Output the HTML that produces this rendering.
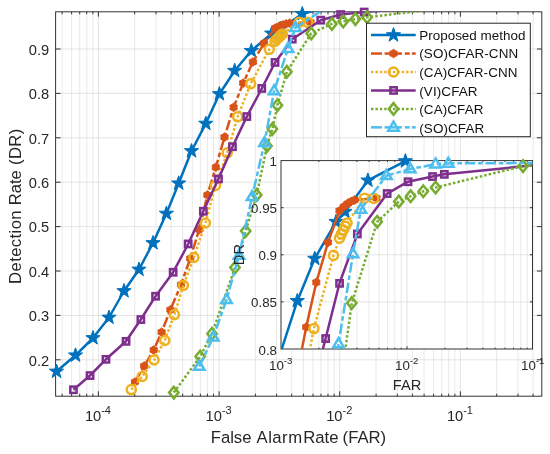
<!DOCTYPE html>
<html><head><meta charset="utf-8"><title>ROC curves</title>
<style>html,body{margin:0;padding:0;background:#fff}svg{display:block}</style></head>
<body>
<svg width="550" height="454" viewBox="0 0 550 454" font-family="'Liberation Sans', sans-serif" fill="#262626">
<rect width="550" height="454" fill="#fff"/>
<defs><clipPath id="cm"><rect x="55.6" y="11.8" width="486.2" height="384.4"/></clipPath><clipPath id="ci"><rect x="281.0" y="160.6" width="251.5" height="188.4"/></clipPath></defs>
<g><line x1="62.1" y1="11.8" x2="62.1" y2="396.2" stroke="#dadada" stroke-width="0.6"/><line x1="71.6" y1="11.8" x2="71.6" y2="396.2" stroke="#dadada" stroke-width="0.6"/><line x1="79.7" y1="11.8" x2="79.7" y2="396.2" stroke="#dadada" stroke-width="0.6"/><line x1="86.7" y1="11.8" x2="86.7" y2="396.2" stroke="#dadada" stroke-width="0.6"/><line x1="92.9" y1="11.8" x2="92.9" y2="396.2" stroke="#dadada" stroke-width="0.6"/><line x1="98.4" y1="11.8" x2="98.4" y2="396.2" stroke="#d2d2d2" stroke-width="0.6"/><line x1="134.7" y1="11.8" x2="134.7" y2="396.2" stroke="#dadada" stroke-width="0.6"/><line x1="156.0" y1="11.8" x2="156.0" y2="396.2" stroke="#dadada" stroke-width="0.6"/><line x1="171.1" y1="11.8" x2="171.1" y2="396.2" stroke="#dadada" stroke-width="0.6"/><line x1="182.7" y1="11.8" x2="182.7" y2="396.2" stroke="#dadada" stroke-width="0.6"/><line x1="192.3" y1="11.8" x2="192.3" y2="396.2" stroke="#dadada" stroke-width="0.6"/><line x1="200.4" y1="11.8" x2="200.4" y2="396.2" stroke="#dadada" stroke-width="0.6"/><line x1="207.4" y1="11.8" x2="207.4" y2="396.2" stroke="#dadada" stroke-width="0.6"/><line x1="213.5" y1="11.8" x2="213.5" y2="396.2" stroke="#dadada" stroke-width="0.6"/><line x1="219.1" y1="11.8" x2="219.1" y2="396.2" stroke="#d2d2d2" stroke-width="0.6"/><line x1="255.4" y1="11.8" x2="255.4" y2="396.2" stroke="#dadada" stroke-width="0.6"/><line x1="276.6" y1="11.8" x2="276.6" y2="396.2" stroke="#dadada" stroke-width="0.6"/><line x1="291.7" y1="11.8" x2="291.7" y2="396.2" stroke="#dadada" stroke-width="0.6"/><line x1="303.4" y1="11.8" x2="303.4" y2="396.2" stroke="#dadada" stroke-width="0.6"/><line x1="313.0" y1="11.8" x2="313.0" y2="396.2" stroke="#dadada" stroke-width="0.6"/><line x1="321.0" y1="11.8" x2="321.0" y2="396.2" stroke="#dadada" stroke-width="0.6"/><line x1="328.0" y1="11.8" x2="328.0" y2="396.2" stroke="#dadada" stroke-width="0.6"/><line x1="334.2" y1="11.8" x2="334.2" y2="396.2" stroke="#dadada" stroke-width="0.6"/><line x1="339.7" y1="11.8" x2="339.7" y2="396.2" stroke="#d2d2d2" stroke-width="0.6"/><line x1="376.1" y1="11.8" x2="376.1" y2="396.2" stroke="#dadada" stroke-width="0.6"/><line x1="397.3" y1="11.8" x2="397.3" y2="396.2" stroke="#dadada" stroke-width="0.6"/><line x1="412.4" y1="11.8" x2="412.4" y2="396.2" stroke="#dadada" stroke-width="0.6"/><line x1="424.1" y1="11.8" x2="424.1" y2="396.2" stroke="#dadada" stroke-width="0.6"/><line x1="433.6" y1="11.8" x2="433.6" y2="396.2" stroke="#dadada" stroke-width="0.6"/><line x1="441.7" y1="11.8" x2="441.7" y2="396.2" stroke="#dadada" stroke-width="0.6"/><line x1="448.7" y1="11.8" x2="448.7" y2="396.2" stroke="#dadada" stroke-width="0.6"/><line x1="454.9" y1="11.8" x2="454.9" y2="396.2" stroke="#dadada" stroke-width="0.6"/><line x1="460.4" y1="11.8" x2="460.4" y2="396.2" stroke="#d2d2d2" stroke-width="0.6"/><line x1="496.7" y1="11.8" x2="496.7" y2="396.2" stroke="#dadada" stroke-width="0.6"/><line x1="518.0" y1="11.8" x2="518.0" y2="396.2" stroke="#dadada" stroke-width="0.6"/><line x1="533.1" y1="11.8" x2="533.1" y2="396.2" stroke="#dadada" stroke-width="0.6"/><line x1="55.6" y1="359.8" x2="541.8" y2="359.8" stroke="#d2d2d2" stroke-width="0.6"/><line x1="55.6" y1="315.4" x2="541.8" y2="315.4" stroke="#d2d2d2" stroke-width="0.6"/><line x1="55.6" y1="271.0" x2="541.8" y2="271.0" stroke="#d2d2d2" stroke-width="0.6"/><line x1="55.6" y1="226.6" x2="541.8" y2="226.6" stroke="#d2d2d2" stroke-width="0.6"/><line x1="55.6" y1="182.2" x2="541.8" y2="182.2" stroke="#d2d2d2" stroke-width="0.6"/><line x1="55.6" y1="137.8" x2="541.8" y2="137.8" stroke="#d2d2d2" stroke-width="0.6"/><line x1="55.6" y1="93.4" x2="541.8" y2="93.4" stroke="#d2d2d2" stroke-width="0.6"/><line x1="55.6" y1="49.0" x2="541.8" y2="49.0" stroke="#d2d2d2" stroke-width="0.6"/></g>
<g><rect x="55.6" y="11.8" width="486.2" height="384.4" fill="none" stroke="#333" stroke-width="1"/><path d="M62.1 396.2v-2.5M62.1 11.8v2.5" stroke="#333" stroke-width="1"/><path d="M71.6 396.2v-2.5M71.6 11.8v2.5" stroke="#333" stroke-width="1"/><path d="M79.7 396.2v-2.5M79.7 11.8v2.5" stroke="#333" stroke-width="1"/><path d="M86.7 396.2v-2.5M86.7 11.8v2.5" stroke="#333" stroke-width="1"/><path d="M92.9 396.2v-2.5M92.9 11.8v2.5" stroke="#333" stroke-width="1"/><path d="M98.4 396.2v-4.9M98.4 11.8v4.9" stroke="#333" stroke-width="1"/><path d="M134.7 396.2v-2.5M134.7 11.8v2.5" stroke="#333" stroke-width="1"/><path d="M156.0 396.2v-2.5M156.0 11.8v2.5" stroke="#333" stroke-width="1"/><path d="M171.1 396.2v-2.5M171.1 11.8v2.5" stroke="#333" stroke-width="1"/><path d="M182.7 396.2v-2.5M182.7 11.8v2.5" stroke="#333" stroke-width="1"/><path d="M192.3 396.2v-2.5M192.3 11.8v2.5" stroke="#333" stroke-width="1"/><path d="M200.4 396.2v-2.5M200.4 11.8v2.5" stroke="#333" stroke-width="1"/><path d="M207.4 396.2v-2.5M207.4 11.8v2.5" stroke="#333" stroke-width="1"/><path d="M213.5 396.2v-2.5M213.5 11.8v2.5" stroke="#333" stroke-width="1"/><path d="M219.1 396.2v-4.9M219.1 11.8v4.9" stroke="#333" stroke-width="1"/><path d="M255.4 396.2v-2.5M255.4 11.8v2.5" stroke="#333" stroke-width="1"/><path d="M276.6 396.2v-2.5M276.6 11.8v2.5" stroke="#333" stroke-width="1"/><path d="M291.7 396.2v-2.5M291.7 11.8v2.5" stroke="#333" stroke-width="1"/><path d="M303.4 396.2v-2.5M303.4 11.8v2.5" stroke="#333" stroke-width="1"/><path d="M313.0 396.2v-2.5M313.0 11.8v2.5" stroke="#333" stroke-width="1"/><path d="M321.0 396.2v-2.5M321.0 11.8v2.5" stroke="#333" stroke-width="1"/><path d="M328.0 396.2v-2.5M328.0 11.8v2.5" stroke="#333" stroke-width="1"/><path d="M334.2 396.2v-2.5M334.2 11.8v2.5" stroke="#333" stroke-width="1"/><path d="M339.7 396.2v-4.9M339.7 11.8v4.9" stroke="#333" stroke-width="1"/><path d="M376.1 396.2v-2.5M376.1 11.8v2.5" stroke="#333" stroke-width="1"/><path d="M397.3 396.2v-2.5M397.3 11.8v2.5" stroke="#333" stroke-width="1"/><path d="M412.4 396.2v-2.5M412.4 11.8v2.5" stroke="#333" stroke-width="1"/><path d="M424.1 396.2v-2.5M424.1 11.8v2.5" stroke="#333" stroke-width="1"/><path d="M433.6 396.2v-2.5M433.6 11.8v2.5" stroke="#333" stroke-width="1"/><path d="M441.7 396.2v-2.5M441.7 11.8v2.5" stroke="#333" stroke-width="1"/><path d="M448.7 396.2v-2.5M448.7 11.8v2.5" stroke="#333" stroke-width="1"/><path d="M454.9 396.2v-2.5M454.9 11.8v2.5" stroke="#333" stroke-width="1"/><path d="M460.4 396.2v-4.9M460.4 11.8v4.9" stroke="#333" stroke-width="1"/><path d="M496.7 396.2v-2.5M496.7 11.8v2.5" stroke="#333" stroke-width="1"/><path d="M518.0 396.2v-2.5M518.0 11.8v2.5" stroke="#333" stroke-width="1"/><path d="M533.1 396.2v-2.5M533.1 11.8v2.5" stroke="#333" stroke-width="1"/><path d="M55.6 359.8h4.9M541.8 359.8h-4.9" stroke="#333" stroke-width="1"/><path d="M55.6 315.4h4.9M541.8 315.4h-4.9" stroke="#333" stroke-width="1"/><path d="M55.6 271.0h4.9M541.8 271.0h-4.9" stroke="#333" stroke-width="1"/><path d="M55.6 226.6h4.9M541.8 226.6h-4.9" stroke="#333" stroke-width="1"/><path d="M55.6 182.2h4.9M541.8 182.2h-4.9" stroke="#333" stroke-width="1"/><path d="M55.6 137.8h4.9M541.8 137.8h-4.9" stroke="#333" stroke-width="1"/><path d="M55.6 93.4h4.9M541.8 93.4h-4.9" stroke="#333" stroke-width="1"/><path d="M55.6 49.0h4.9M541.8 49.0h-4.9" stroke="#333" stroke-width="1"/></g>
<g><polyline clip-path="url(#cm)" points="56.5,371.5 75.5,355.3 93.0,338.0 109.0,317.5 124.0,291.0 139.0,269.5 153.0,243.0 166.4,213.6 178.7,183.3 191.5,151.0 205.8,123.6 219.4,94.0 234.7,70.7 251.3,50.8 271.7,33.4 280.4,28.7 302.3,13.9 338.2,4.8" fill="none" stroke="#0072BD" stroke-width="2.5" stroke-linejoin="round"/><polygon points="56.5,364.0 58.3,369.1 63.6,369.2 59.4,372.4 60.9,377.6 56.5,374.5 52.1,377.6 53.6,372.4 49.4,369.2 54.7,369.1" fill="#0072BD" stroke="#0072BD" stroke-width="1" stroke-linejoin="miter"/><polygon points="75.5,347.8 77.3,352.9 82.6,353.0 78.4,356.2 79.9,361.4 75.5,358.3 71.1,361.4 72.6,356.2 68.4,353.0 73.7,352.9" fill="#0072BD" stroke="#0072BD" stroke-width="1" stroke-linejoin="miter"/><polygon points="93.0,330.5 94.8,335.6 100.1,335.7 95.9,338.9 97.4,344.1 93.0,341.0 88.6,344.1 90.1,338.9 85.9,335.7 91.2,335.6" fill="#0072BD" stroke="#0072BD" stroke-width="1" stroke-linejoin="miter"/><polygon points="109.0,310.0 110.8,315.1 116.1,315.2 111.9,318.4 113.4,323.6 109.0,320.5 104.6,323.6 106.1,318.4 101.9,315.2 107.2,315.1" fill="#0072BD" stroke="#0072BD" stroke-width="1" stroke-linejoin="miter"/><polygon points="124.0,283.5 125.8,288.6 131.1,288.7 126.9,291.9 128.4,297.1 124.0,294.0 119.6,297.1 121.1,291.9 116.9,288.7 122.2,288.6" fill="#0072BD" stroke="#0072BD" stroke-width="1" stroke-linejoin="miter"/><polygon points="139.0,262.0 140.8,267.1 146.1,267.2 141.9,270.4 143.4,275.6 139.0,272.5 134.6,275.6 136.1,270.4 131.9,267.2 137.2,267.1" fill="#0072BD" stroke="#0072BD" stroke-width="1" stroke-linejoin="miter"/><polygon points="153.0,235.5 154.8,240.6 160.1,240.7 155.9,243.9 157.4,249.1 153.0,246.0 148.6,249.1 150.1,243.9 145.9,240.7 151.2,240.6" fill="#0072BD" stroke="#0072BD" stroke-width="1" stroke-linejoin="miter"/><polygon points="166.4,206.1 168.2,211.2 173.5,211.3 169.3,214.5 170.8,219.7 166.4,216.6 162.0,219.7 163.5,214.5 159.3,211.3 164.6,211.2" fill="#0072BD" stroke="#0072BD" stroke-width="1" stroke-linejoin="miter"/><polygon points="178.7,175.8 180.5,180.9 185.8,181.0 181.6,184.2 183.1,189.4 178.7,186.3 174.3,189.4 175.8,184.2 171.6,181.0 176.9,180.9" fill="#0072BD" stroke="#0072BD" stroke-width="1" stroke-linejoin="miter"/><polygon points="191.5,143.5 193.3,148.6 198.6,148.7 194.4,151.9 195.9,157.1 191.5,154.0 187.1,157.1 188.6,151.9 184.4,148.7 189.7,148.6" fill="#0072BD" stroke="#0072BD" stroke-width="1" stroke-linejoin="miter"/><polygon points="205.8,116.1 207.6,121.2 212.9,121.3 208.7,124.5 210.2,129.7 205.8,126.6 201.4,129.7 202.9,124.5 198.7,121.3 204.0,121.2" fill="#0072BD" stroke="#0072BD" stroke-width="1" stroke-linejoin="miter"/><polygon points="219.4,86.5 221.2,91.6 226.5,91.7 222.3,94.9 223.8,100.1 219.4,97.0 215.0,100.1 216.5,94.9 212.3,91.7 217.6,91.6" fill="#0072BD" stroke="#0072BD" stroke-width="1" stroke-linejoin="miter"/><polygon points="234.7,63.2 236.4,68.3 241.8,68.4 237.5,71.7 239.1,76.8 234.7,73.7 230.3,76.8 231.8,71.7 227.5,68.4 232.9,68.3" fill="#0072BD" stroke="#0072BD" stroke-width="1" stroke-linejoin="miter"/><polygon points="251.3,43.3 253.1,48.4 258.5,48.5 254.2,51.7 255.8,56.9 251.3,53.8 246.9,56.9 248.5,51.7 244.2,48.5 249.6,48.4" fill="#0072BD" stroke="#0072BD" stroke-width="1" stroke-linejoin="miter"/><polygon points="271.7,25.9 273.5,31.0 278.9,31.1 274.6,34.4 276.2,39.5 271.7,36.4 267.3,39.5 268.9,34.4 264.6,31.1 270.0,31.0" fill="#0072BD" stroke="#0072BD" stroke-width="1" stroke-linejoin="miter"/><polygon points="280.4,21.2 282.1,26.3 287.5,26.4 283.2,29.6 284.8,34.8 280.4,31.7 276.0,34.8 277.5,29.6 273.2,26.4 278.6,26.3" fill="#0072BD" stroke="#0072BD" stroke-width="1" stroke-linejoin="miter"/><polygon points="302.3,6.4 304.1,11.5 309.4,11.6 305.1,14.9 306.7,20.0 302.3,16.9 297.9,20.0 299.4,14.9 295.2,11.6 300.5,11.5" fill="#0072BD" stroke="#0072BD" stroke-width="1" stroke-linejoin="miter"/><polyline clip-path="url(#cm)" points="135.0,382.0 144.2,366.0 153.7,350.0 161.6,332.2 170.4,309.8 181.0,284.7 190.2,258.5 199.2,229.6 207.4,195.0 215.8,167.3 224.5,137.2 233.6,107.4 243.2,83.1 252.9,62.0 264.1,43.2 275.1,28.2 279.1,26.3 282.9,24.9 286.1,23.9 289.6,23.2 310.5,22.3" fill="none" stroke="#D95319" stroke-width="2.5" stroke-linejoin="round" stroke-dasharray="10.5 2.8 4.6 2.8"/><polygon points="135.0,377.7 136.7,379.1 138.7,379.9 138.4,382.0 138.7,384.1 136.7,384.9 135.0,386.3 133.3,384.9 131.3,384.1 131.6,382.0 131.3,379.9 133.3,379.1" fill="#D95319" stroke="#D95319" stroke-width="1" stroke-linejoin="round"/><polygon points="144.2,361.7 145.9,363.1 147.9,363.9 147.6,366.0 147.9,368.1 145.9,368.9 144.2,370.3 142.5,368.9 140.5,368.1 140.8,366.0 140.5,363.9 142.5,363.1" fill="#D95319" stroke="#D95319" stroke-width="1" stroke-linejoin="round"/><polygon points="153.7,345.7 155.4,347.1 157.4,347.9 157.1,350.0 157.4,352.1 155.4,352.9 153.7,354.3 152.0,352.9 150.0,352.1 150.3,350.0 150.0,347.9 152.0,347.1" fill="#D95319" stroke="#D95319" stroke-width="1" stroke-linejoin="round"/><polygon points="161.6,327.9 163.3,329.3 165.3,330.1 165.0,332.2 165.3,334.3 163.3,335.1 161.6,336.5 159.9,335.1 157.9,334.3 158.2,332.2 157.9,330.1 159.9,329.3" fill="#D95319" stroke="#D95319" stroke-width="1" stroke-linejoin="round"/><polygon points="170.4,305.5 172.1,306.9 174.1,307.7 173.8,309.8 174.1,311.9 172.1,312.7 170.4,314.1 168.7,312.7 166.7,311.9 167.0,309.8 166.7,307.7 168.7,306.9" fill="#D95319" stroke="#D95319" stroke-width="1" stroke-linejoin="round"/><polygon points="181.0,280.4 182.7,281.8 184.7,282.6 184.4,284.7 184.7,286.8 182.7,287.6 181.0,289.0 179.3,287.6 177.3,286.8 177.6,284.7 177.3,282.6 179.3,281.8" fill="#D95319" stroke="#D95319" stroke-width="1" stroke-linejoin="round"/><polygon points="190.2,254.2 191.9,255.6 193.9,256.4 193.6,258.5 193.9,260.6 191.9,261.4 190.2,262.8 188.5,261.4 186.5,260.6 186.8,258.5 186.5,256.4 188.5,255.6" fill="#D95319" stroke="#D95319" stroke-width="1" stroke-linejoin="round"/><polygon points="199.2,225.3 200.9,226.7 202.9,227.4 202.6,229.6 202.9,231.8 200.9,232.5 199.2,233.9 197.5,232.5 195.5,231.8 195.8,229.6 195.5,227.4 197.5,226.7" fill="#D95319" stroke="#D95319" stroke-width="1" stroke-linejoin="round"/><polygon points="207.4,190.7 209.1,192.1 211.1,192.9 210.8,195.0 211.1,197.2 209.1,197.9 207.4,199.3 205.7,197.9 203.7,197.2 204.0,195.0 203.7,192.9 205.7,192.1" fill="#D95319" stroke="#D95319" stroke-width="1" stroke-linejoin="round"/><polygon points="215.8,163.0 217.5,164.4 219.5,165.2 219.2,167.3 219.5,169.5 217.5,170.2 215.8,171.6 214.1,170.2 212.1,169.5 212.4,167.3 212.1,165.2 214.1,164.4" fill="#D95319" stroke="#D95319" stroke-width="1" stroke-linejoin="round"/><polygon points="224.5,132.9 226.2,134.3 228.2,135.0 227.9,137.2 228.2,139.3 226.2,140.1 224.5,141.5 222.8,140.1 220.8,139.3 221.1,137.2 220.8,135.0 222.8,134.3" fill="#D95319" stroke="#D95319" stroke-width="1" stroke-linejoin="round"/><polygon points="233.6,103.1 235.3,104.5 237.3,105.2 237.0,107.4 237.3,109.5 235.3,110.3 233.6,111.7 231.9,110.3 229.9,109.5 230.2,107.4 229.9,105.2 231.9,104.5" fill="#D95319" stroke="#D95319" stroke-width="1" stroke-linejoin="round"/><polygon points="243.2,78.8 244.9,80.2 246.9,80.9 246.6,83.1 246.9,85.2 244.9,86.0 243.2,87.4 241.5,86.0 239.5,85.2 239.8,83.1 239.5,80.9 241.5,80.2" fill="#D95319" stroke="#D95319" stroke-width="1" stroke-linejoin="round"/><polygon points="252.9,57.7 254.6,59.1 256.6,59.9 256.2,62.0 256.6,64.2 254.6,64.9 252.9,66.3 251.2,64.9 249.2,64.2 249.5,62.0 249.2,59.9 251.2,59.1" fill="#D95319" stroke="#D95319" stroke-width="1" stroke-linejoin="round"/><polygon points="264.1,38.9 265.8,40.3 267.8,41.0 267.4,43.2 267.8,45.3 265.8,46.1 264.1,47.5 262.4,46.1 260.4,45.3 260.7,43.2 260.4,41.0 262.4,40.3" fill="#D95319" stroke="#D95319" stroke-width="1" stroke-linejoin="round"/><polygon points="275.1,23.9 276.8,25.3 278.8,26.1 278.4,28.2 278.8,30.4 276.8,31.1 275.1,32.5 273.4,31.1 271.4,30.4 271.7,28.2 271.4,26.1 273.4,25.3" fill="#D95319" stroke="#D95319" stroke-width="1" stroke-linejoin="round"/><polygon points="279.1,22.0 280.8,23.4 282.8,24.2 282.5,26.3 282.8,28.5 280.8,29.2 279.1,30.6 277.4,29.2 275.4,28.5 275.8,26.3 275.4,24.2 277.4,23.4" fill="#D95319" stroke="#D95319" stroke-width="1" stroke-linejoin="round"/><polygon points="282.9,20.6 284.5,22.0 286.6,22.7 286.2,24.9 286.6,27.0 284.5,27.8 282.9,29.2 281.2,27.8 279.1,27.0 279.5,24.9 279.1,22.7 281.2,22.0" fill="#D95319" stroke="#D95319" stroke-width="1" stroke-linejoin="round"/><polygon points="286.1,19.6 287.8,21.0 289.8,21.8 289.5,23.9 289.8,26.1 287.8,26.8 286.1,28.2 284.4,26.8 282.4,26.1 282.8,23.9 282.4,21.8 284.4,21.0" fill="#D95319" stroke="#D95319" stroke-width="1" stroke-linejoin="round"/><polygon points="289.6,18.9 291.2,20.3 293.3,21.0 292.9,23.2 293.3,25.3 291.2,26.1 289.6,27.5 287.9,26.1 285.8,25.3 286.2,23.2 285.8,21.0 287.9,20.3" fill="#D95319" stroke="#D95319" stroke-width="1" stroke-linejoin="round"/><polygon points="310.5,18.0 312.2,19.4 314.3,20.2 313.9,22.3 314.3,24.5 312.2,25.2 310.5,26.6 308.9,25.2 306.8,24.5 307.2,22.3 306.8,20.2 308.9,19.4" fill="#D95319" stroke="#D95319" stroke-width="1" stroke-linejoin="round"/><polyline clip-path="url(#cm)" points="131.3,389.6 142.2,376.5 154.1,360.0 164.8,340.5 174.4,314.6 183.4,285.3 193.9,257.5 205.4,223.0 215.5,185.5 227.2,152.8 237.7,116.8 250.6,83.8 269.3,49.3 275.1,41.2 276.9,39.2 278.7,37.3 280.6,35.6 282.3,34.0 299.0,22.3 307.9,22.4" fill="none" stroke="#EDB120" stroke-width="2.5" stroke-linejoin="round" stroke-dasharray="2.5 2.1"/><circle cx="131.3" cy="389.6" r="4.55" fill="none" stroke="#EDB120" stroke-width="2.5"/><circle cx="142.2" cy="376.5" r="4.55" fill="none" stroke="#EDB120" stroke-width="2.5"/><circle cx="154.1" cy="360.0" r="4.55" fill="none" stroke="#EDB120" stroke-width="2.5"/><circle cx="164.8" cy="340.5" r="4.55" fill="none" stroke="#EDB120" stroke-width="2.5"/><circle cx="174.4" cy="314.6" r="4.55" fill="none" stroke="#EDB120" stroke-width="2.5"/><circle cx="183.4" cy="285.3" r="4.55" fill="none" stroke="#EDB120" stroke-width="2.5"/><circle cx="193.9" cy="257.5" r="4.55" fill="none" stroke="#EDB120" stroke-width="2.5"/><circle cx="205.4" cy="223.0" r="4.55" fill="none" stroke="#EDB120" stroke-width="2.5"/><circle cx="215.5" cy="185.5" r="4.55" fill="none" stroke="#EDB120" stroke-width="2.5"/><circle cx="227.2" cy="152.8" r="4.55" fill="none" stroke="#EDB120" stroke-width="2.5"/><circle cx="237.7" cy="116.8" r="4.55" fill="none" stroke="#EDB120" stroke-width="2.5"/><circle cx="250.6" cy="83.8" r="4.55" fill="none" stroke="#EDB120" stroke-width="2.5"/><circle cx="269.3" cy="49.3" r="4.55" fill="none" stroke="#EDB120" stroke-width="2.5"/><circle cx="275.1" cy="41.2" r="4.55" fill="none" stroke="#EDB120" stroke-width="2.5"/><circle cx="276.9" cy="39.2" r="4.55" fill="none" stroke="#EDB120" stroke-width="2.5"/><circle cx="278.7" cy="37.3" r="4.55" fill="none" stroke="#EDB120" stroke-width="2.5"/><circle cx="280.6" cy="35.6" r="4.55" fill="none" stroke="#EDB120" stroke-width="2.5"/><circle cx="282.3" cy="34.0" r="4.55" fill="none" stroke="#EDB120" stroke-width="2.5"/><circle cx="299.0" cy="22.3" r="4.55" fill="none" stroke="#EDB120" stroke-width="2.5"/><circle cx="307.9" cy="22.4" r="4.55" fill="none" stroke="#EDB120" stroke-width="2.5"/><polyline clip-path="url(#cm)" points="73.5,389.7 90.0,375.5 106.0,359.3 126.0,341.3 140.8,319.5 155.6,296.2 173.2,272.2 188.2,244.0 203.3,211.2 218.4,179.0 232.5,146.8 246.8,116.6 261.8,88.5 275.1,62.4 292.2,39.2 320.8,20.2 340.7,14.5 364.2,12.1 375.5,11.1 486.3,5.5" fill="none" stroke="#7E2F8E" stroke-width="2.5" stroke-linejoin="round"/><rect x="70.3" y="386.6" width="6.3" height="6.3" fill="none" stroke="#7E2F8E" stroke-width="2.5"/><rect x="86.9" y="372.4" width="6.3" height="6.3" fill="none" stroke="#7E2F8E" stroke-width="2.5"/><rect x="102.8" y="356.2" width="6.3" height="6.3" fill="none" stroke="#7E2F8E" stroke-width="2.5"/><rect x="122.9" y="338.2" width="6.3" height="6.3" fill="none" stroke="#7E2F8E" stroke-width="2.5"/><rect x="137.7" y="316.4" width="6.3" height="6.3" fill="none" stroke="#7E2F8E" stroke-width="2.5"/><rect x="152.4" y="293.1" width="6.3" height="6.3" fill="none" stroke="#7E2F8E" stroke-width="2.5"/><rect x="170.0" y="269.1" width="6.3" height="6.3" fill="none" stroke="#7E2F8E" stroke-width="2.5"/><rect x="185.0" y="240.8" width="6.3" height="6.3" fill="none" stroke="#7E2F8E" stroke-width="2.5"/><rect x="200.2" y="208.1" width="6.3" height="6.3" fill="none" stroke="#7E2F8E" stroke-width="2.5"/><rect x="215.3" y="175.8" width="6.3" height="6.3" fill="none" stroke="#7E2F8E" stroke-width="2.5"/><rect x="229.3" y="143.6" width="6.3" height="6.3" fill="none" stroke="#7E2F8E" stroke-width="2.5"/><rect x="243.7" y="113.4" width="6.3" height="6.3" fill="none" stroke="#7E2F8E" stroke-width="2.5"/><rect x="258.6" y="85.3" width="6.3" height="6.3" fill="none" stroke="#7E2F8E" stroke-width="2.5"/><rect x="271.9" y="59.3" width="6.3" height="6.3" fill="none" stroke="#7E2F8E" stroke-width="2.5"/><rect x="289.1" y="36.0" width="6.3" height="6.3" fill="none" stroke="#7E2F8E" stroke-width="2.5"/><rect x="317.6" y="17.0" width="6.3" height="6.3" fill="none" stroke="#7E2F8E" stroke-width="2.5"/><rect x="337.5" y="11.4" width="6.3" height="6.3" fill="none" stroke="#7E2F8E" stroke-width="2.5"/><rect x="361.0" y="8.9" width="6.3" height="6.3" fill="none" stroke="#7E2F8E" stroke-width="2.5"/><polyline clip-path="url(#cm)" points="173.8,392.6 200.2,356.5 212.0,333.8 235.0,267.5 245.7,231.0 256.7,194.9 267.0,146.0 272.4,129.0 277.4,105.3 286.9,71.7 311.2,33.4 331.9,23.9 343.2,21.4 355.4,19.1 367.1,17.3 450.8,7.2 486.3,6.0" fill="none" stroke="#77AC30" stroke-width="2.5" stroke-linejoin="round" stroke-dasharray="2.5 2.1"/><polygon points="173.8,386.8 178.5,392.6 173.8,398.4 169.1,392.6" fill="none" stroke="#77AC30" stroke-width="2.5" stroke-linejoin="miter"/><polygon points="200.2,350.7 204.9,356.5 200.2,362.3 195.5,356.5" fill="none" stroke="#77AC30" stroke-width="2.5" stroke-linejoin="miter"/><polygon points="212.0,328.0 216.7,333.8 212.0,339.6 207.3,333.8" fill="none" stroke="#77AC30" stroke-width="2.5" stroke-linejoin="miter"/><polygon points="235.0,261.7 239.7,267.5 235.0,273.3 230.3,267.5" fill="none" stroke="#77AC30" stroke-width="2.5" stroke-linejoin="miter"/><polygon points="245.7,225.2 250.4,231.0 245.7,236.8 241.0,231.0" fill="none" stroke="#77AC30" stroke-width="2.5" stroke-linejoin="miter"/><polygon points="256.7,189.1 261.4,194.9 256.7,200.7 252.0,194.9" fill="none" stroke="#77AC30" stroke-width="2.5" stroke-linejoin="miter"/><polygon points="267.0,140.2 271.7,146.0 267.0,151.8 262.3,146.0" fill="none" stroke="#77AC30" stroke-width="2.5" stroke-linejoin="miter"/><polygon points="272.4,123.2 277.1,129.0 272.4,134.8 267.7,129.0" fill="none" stroke="#77AC30" stroke-width="2.5" stroke-linejoin="miter"/><polygon points="277.4,99.5 282.1,105.3 277.4,111.1 272.7,105.3" fill="none" stroke="#77AC30" stroke-width="2.5" stroke-linejoin="miter"/><polygon points="286.9,65.9 291.6,71.7 286.9,77.5 282.2,71.7" fill="none" stroke="#77AC30" stroke-width="2.5" stroke-linejoin="miter"/><polygon points="311.2,27.6 315.9,33.4 311.2,39.2 306.5,33.4" fill="none" stroke="#77AC30" stroke-width="2.5" stroke-linejoin="miter"/><polygon points="331.9,18.1 336.6,23.9 331.9,29.7 327.2,23.9" fill="none" stroke="#77AC30" stroke-width="2.5" stroke-linejoin="miter"/><polygon points="343.2,15.6 347.9,21.4 343.2,27.2 338.5,21.4" fill="none" stroke="#77AC30" stroke-width="2.5" stroke-linejoin="miter"/><polygon points="355.4,13.3 360.1,19.1 355.4,24.9 350.7,19.1" fill="none" stroke="#77AC30" stroke-width="2.5" stroke-linejoin="miter"/><polygon points="367.1,11.5 371.8,17.3 367.1,23.1 362.4,17.3" fill="none" stroke="#77AC30" stroke-width="2.5" stroke-linejoin="miter"/><polyline clip-path="url(#cm)" points="199.3,366.5 213.2,337.2 226.5,299.8 239.0,255.5 252.1,196.8 264.5,142.8 274.1,91.0 288.0,48.6 295.5,27.6 320.0,11.7 342.8,8.6 367.1,6.2 379.3,5.9 486.3,5.7" fill="none" stroke="#4DBEEE" stroke-width="2.5" stroke-linejoin="round" stroke-dasharray="10.5 2.8 4.6 2.8"/><polygon points="199.3,360.8 204.6,369.8 194.0,369.8" fill="none" stroke="#4DBEEE" stroke-width="2.5" stroke-linejoin="miter"/><polygon points="213.2,331.5 218.5,340.5 207.9,340.5" fill="none" stroke="#4DBEEE" stroke-width="2.5" stroke-linejoin="miter"/><polygon points="226.5,294.1 231.8,303.1 221.2,303.1" fill="none" stroke="#4DBEEE" stroke-width="2.5" stroke-linejoin="miter"/><polygon points="239.0,249.8 244.3,258.8 233.7,258.8" fill="none" stroke="#4DBEEE" stroke-width="2.5" stroke-linejoin="miter"/><polygon points="252.1,191.1 257.4,200.1 246.8,200.1" fill="none" stroke="#4DBEEE" stroke-width="2.5" stroke-linejoin="miter"/><polygon points="264.5,137.1 269.8,146.1 259.2,146.1" fill="none" stroke="#4DBEEE" stroke-width="2.5" stroke-linejoin="miter"/><polygon points="274.1,85.3 279.4,94.3 268.8,94.3" fill="none" stroke="#4DBEEE" stroke-width="2.5" stroke-linejoin="miter"/><polygon points="288.0,42.9 293.3,51.9 282.7,51.9" fill="none" stroke="#4DBEEE" stroke-width="2.5" stroke-linejoin="miter"/><polygon points="295.5,21.9 300.8,30.9 290.2,30.9" fill="none" stroke="#4DBEEE" stroke-width="2.5" stroke-linejoin="miter"/></g>
<g><text x="49.2" y="365.6" font-size="14.67" text-anchor="end">0.2</text><text x="49.2" y="321.2" font-size="14.67" text-anchor="end">0.3</text><text x="49.2" y="276.8" font-size="14.67" text-anchor="end">0.4</text><text x="49.2" y="232.4" font-size="14.67" text-anchor="end">0.5</text><text x="49.2" y="188.0" font-size="14.67" text-anchor="end">0.6</text><text x="49.2" y="143.6" font-size="14.67" text-anchor="end">0.7</text><text x="49.2" y="99.2" font-size="14.67" text-anchor="end">0.8</text><text x="49.2" y="54.8" font-size="14.67" text-anchor="end">0.9</text><text x="84.9" y="420.8" font-size="14.67" text-anchor="start">10<tspan font-size="11" dy="-6.5">-4</tspan></text><text x="205.6" y="420.8" font-size="14.67" text-anchor="start">10<tspan font-size="11" dy="-6.5">-3</tspan></text><text x="326.2" y="420.8" font-size="14.67" text-anchor="start">10<tspan font-size="11" dy="-6.5">-2</tspan></text><text x="446.9" y="420.8" font-size="14.67" text-anchor="start">10<tspan font-size="11" dy="-6.5">-1</tspan></text><text x="210.7" y="442.7" font-size="16.7">False</text><text x="256.5" y="442.7" font-size="16.7" letter-spacing="0.50">Alarm</text><text x="303.2" y="442.7" font-size="16.7">Rate</text><text x="342.6" y="442.7" font-size="16.7">(FAR)</text><text transform="translate(20.8,283.90) rotate(-90)" font-size="16.7" letter-spacing="0.37">Detection</text><text transform="translate(20.8,205.35) rotate(-90)" font-size="16.7">Rate</text><text transform="translate(20.8,165.05) rotate(-90)" font-size="16.7" letter-spacing="0.40">(DR)</text></g>
<rect x="281.0" y="160.6" width="251.5" height="188.4" fill="#fff"/>
<g><line x1="318.9" y1="160.6" x2="318.9" y2="349.0" stroke="#dadada" stroke-width="0.6"/><line x1="341.1" y1="160.6" x2="341.1" y2="349.0" stroke="#dadada" stroke-width="0.6"/><line x1="356.9" y1="160.6" x2="356.9" y2="349.0" stroke="#dadada" stroke-width="0.6"/><line x1="369.1" y1="160.6" x2="369.1" y2="349.0" stroke="#dadada" stroke-width="0.6"/><line x1="379.0" y1="160.6" x2="379.0" y2="349.0" stroke="#dadada" stroke-width="0.6"/><line x1="387.5" y1="160.6" x2="387.5" y2="349.0" stroke="#dadada" stroke-width="0.6"/><line x1="394.8" y1="160.6" x2="394.8" y2="349.0" stroke="#dadada" stroke-width="0.6"/><line x1="401.2" y1="160.6" x2="401.2" y2="349.0" stroke="#dadada" stroke-width="0.6"/><line x1="407.0" y1="160.6" x2="407.0" y2="349.0" stroke="#d2d2d2" stroke-width="0.6"/><line x1="444.9" y1="160.6" x2="444.9" y2="349.0" stroke="#dadada" stroke-width="0.6"/><line x1="467.1" y1="160.6" x2="467.1" y2="349.0" stroke="#dadada" stroke-width="0.6"/><line x1="482.9" y1="160.6" x2="482.9" y2="349.0" stroke="#dadada" stroke-width="0.6"/><line x1="495.1" y1="160.6" x2="495.1" y2="349.0" stroke="#dadada" stroke-width="0.6"/><line x1="505.0" y1="160.6" x2="505.0" y2="349.0" stroke="#dadada" stroke-width="0.6"/><line x1="513.5" y1="160.6" x2="513.5" y2="349.0" stroke="#dadada" stroke-width="0.6"/><line x1="520.8" y1="160.6" x2="520.8" y2="349.0" stroke="#dadada" stroke-width="0.6"/><line x1="527.2" y1="160.6" x2="527.2" y2="349.0" stroke="#dadada" stroke-width="0.6"/><line x1="281.0" y1="301.9" x2="532.5" y2="301.9" stroke="#d2d2d2" stroke-width="0.6"/><line x1="281.0" y1="254.8" x2="532.5" y2="254.8" stroke="#d2d2d2" stroke-width="0.6"/><line x1="281.0" y1="207.7" x2="532.5" y2="207.7" stroke="#d2d2d2" stroke-width="0.6"/></g>
<g><rect x="281.0" y="160.6" width="251.5" height="188.4" fill="none" stroke="#333" stroke-width="1"/><path d="M318.9 349.0v-1.3M318.9 160.6v1.3" stroke="#333" stroke-width="1"/><path d="M341.1 349.0v-1.3M341.1 160.6v1.3" stroke="#333" stroke-width="1"/><path d="M356.9 349.0v-1.3M356.9 160.6v1.3" stroke="#333" stroke-width="1"/><path d="M369.1 349.0v-1.3M369.1 160.6v1.3" stroke="#333" stroke-width="1"/><path d="M379.0 349.0v-1.3M379.0 160.6v1.3" stroke="#333" stroke-width="1"/><path d="M387.5 349.0v-1.3M387.5 160.6v1.3" stroke="#333" stroke-width="1"/><path d="M394.8 349.0v-1.3M394.8 160.6v1.3" stroke="#333" stroke-width="1"/><path d="M401.2 349.0v-1.3M401.2 160.6v1.3" stroke="#333" stroke-width="1"/><path d="M407.0 349.0v-2.6M407.0 160.6v2.6" stroke="#333" stroke-width="1"/><path d="M444.9 349.0v-1.3M444.9 160.6v1.3" stroke="#333" stroke-width="1"/><path d="M467.1 349.0v-1.3M467.1 160.6v1.3" stroke="#333" stroke-width="1"/><path d="M482.9 349.0v-1.3M482.9 160.6v1.3" stroke="#333" stroke-width="1"/><path d="M495.1 349.0v-1.3M495.1 160.6v1.3" stroke="#333" stroke-width="1"/><path d="M505.0 349.0v-1.3M505.0 160.6v1.3" stroke="#333" stroke-width="1"/><path d="M513.5 349.0v-1.3M513.5 160.6v1.3" stroke="#333" stroke-width="1"/><path d="M520.8 349.0v-1.3M520.8 160.6v1.3" stroke="#333" stroke-width="1"/><path d="M527.2 349.0v-1.3M527.2 160.6v1.3" stroke="#333" stroke-width="1"/><path d="M281.0 301.9h2.6M532.5 301.9h-2.6" stroke="#333" stroke-width="1"/><path d="M281.0 254.8h2.6M532.5 254.8h-2.6" stroke="#333" stroke-width="1"/><path d="M281.0 207.7h2.6M532.5 207.7h-2.6" stroke="#333" stroke-width="1"/></g>
<g><polyline clip-path="url(#ci)" points="111.2,939.0 131.1,904.7 149.4,867.9 166.1,824.5 181.7,768.2 197.4,722.6 212.0,666.4 226.0,604.0 238.8,539.7 252.2,471.2 267.1,413.1 281.3,350.3 297.3,300.9 314.7,258.6 336.0,221.8 345.0,211.7 367.9,180.4 405.4,161.1" fill="none" stroke="#0072BD" stroke-width="2.5" stroke-linejoin="round"/><polygon points="297.3,293.4 299.1,298.5 304.4,298.6 300.2,301.8 301.7,307.0 297.3,303.9 292.9,307.0 294.4,301.8 290.2,298.6 295.5,298.5" fill="#0072BD" stroke="#0072BD" stroke-width="1" stroke-linejoin="miter"/><polygon points="314.7,251.1 316.5,256.2 321.8,256.3 317.6,259.5 319.1,264.7 314.7,261.6 310.3,264.7 311.8,259.5 307.6,256.3 312.9,256.2" fill="#0072BD" stroke="#0072BD" stroke-width="1" stroke-linejoin="miter"/><polygon points="336.0,214.3 337.8,219.4 343.1,219.5 338.9,222.7 340.4,227.9 336.0,224.8 331.6,227.9 333.1,222.7 328.9,219.5 334.2,219.4" fill="#0072BD" stroke="#0072BD" stroke-width="1" stroke-linejoin="miter"/><polygon points="345.0,204.2 346.8,209.3 352.1,209.4 347.9,212.6 349.4,217.8 345.0,214.7 340.6,217.8 342.1,212.6 337.9,209.4 343.2,209.3" fill="#0072BD" stroke="#0072BD" stroke-width="1" stroke-linejoin="miter"/><polygon points="367.9,172.9 369.7,178.0 375.0,178.1 370.8,181.3 372.3,186.5 367.9,183.4 363.5,186.5 365.0,181.3 360.8,178.1 366.1,178.0" fill="#0072BD" stroke="#0072BD" stroke-width="1" stroke-linejoin="miter"/><polygon points="405.4,153.6 407.2,158.7 412.5,158.8 408.3,162.0 409.8,167.2 405.4,164.1 401.0,167.2 402.5,162.0 398.3,158.8 403.6,158.7" fill="#0072BD" stroke="#0072BD" stroke-width="1" stroke-linejoin="miter"/><polyline clip-path="url(#ci)" points="193.2,961.3 202.8,927.4 212.7,893.4 221.0,855.6 230.2,808.1 241.2,754.9 250.9,699.3 260.3,638.0 268.8,564.6 277.6,505.8 286.7,441.9 296.2,378.7 306.2,327.1 316.3,282.4 328.0,242.4 339.5,210.7 343.7,206.7 347.6,203.6 351.0,201.6 354.6,200.0 376.5,198.2" fill="none" stroke="#D95319" stroke-width="2.5" stroke-linejoin="round"/><polygon points="306.2,322.8 307.9,324.2 309.9,325.0 309.6,327.1 309.9,329.2 307.9,330.0 306.2,331.4 304.5,330.0 302.5,329.2 302.8,327.1 302.5,325.0 304.5,324.2" fill="#D95319" stroke="#D95319" stroke-width="1" stroke-linejoin="round"/><polygon points="316.3,278.1 318.0,279.5 320.0,280.2 319.7,282.4 320.0,284.5 318.0,285.3 316.3,286.7 314.6,285.3 312.6,284.5 312.9,282.4 312.6,280.2 314.6,279.5" fill="#D95319" stroke="#D95319" stroke-width="1" stroke-linejoin="round"/><polygon points="328.0,238.1 329.7,239.5 331.7,240.2 331.4,242.4 331.7,244.5 329.7,245.3 328.0,246.7 326.3,245.3 324.3,244.5 324.6,242.4 324.3,240.2 326.3,239.5" fill="#D95319" stroke="#D95319" stroke-width="1" stroke-linejoin="round"/><polygon points="339.5,206.4 341.2,207.8 343.2,208.6 342.9,210.7 343.2,212.9 341.2,213.6 339.5,215.0 337.8,213.6 335.8,212.9 336.1,210.7 335.8,208.6 337.8,207.8" fill="#D95319" stroke="#D95319" stroke-width="1" stroke-linejoin="round"/><polygon points="343.7,202.4 345.4,203.8 347.4,204.6 347.1,206.7 347.4,208.9 345.4,209.6 343.7,211.0 342.0,209.6 340.0,208.9 340.3,206.7 340.0,204.6 342.0,203.8" fill="#D95319" stroke="#D95319" stroke-width="1" stroke-linejoin="round"/><polygon points="347.6,199.3 349.3,200.7 351.3,201.4 351.0,203.6 351.3,205.8 349.3,206.5 347.6,207.9 345.9,206.5 343.9,205.8 344.2,203.6 343.9,201.4 345.9,200.7" fill="#D95319" stroke="#D95319" stroke-width="1" stroke-linejoin="round"/><polygon points="351.0,197.3 352.7,198.7 354.7,199.4 354.4,201.6 354.7,203.8 352.7,204.5 351.0,205.9 349.3,204.5 347.3,203.8 347.6,201.6 347.3,199.4 349.3,198.7" fill="#D95319" stroke="#D95319" stroke-width="1" stroke-linejoin="round"/><polygon points="354.6,195.7 356.3,197.1 358.3,197.8 358.0,200.0 358.3,202.2 356.3,202.9 354.6,204.3 352.9,202.9 350.9,202.2 351.2,200.0 350.9,197.8 352.9,197.1" fill="#D95319" stroke="#D95319" stroke-width="1" stroke-linejoin="round"/><polygon points="376.5,193.9 378.2,195.3 380.2,196.0 379.9,198.2 380.2,200.3 378.2,201.1 376.5,202.5 374.8,201.1 372.8,200.3 373.1,198.2 372.8,196.0 374.8,195.3" fill="#D95319" stroke="#D95319" stroke-width="1" stroke-linejoin="round"/><polyline clip-path="url(#ci)" points="189.4,977.4 200.7,949.6 213.2,914.6 224.3,873.3 234.4,818.3 243.8,756.1 254.7,697.2 266.7,624.0 277.3,544.4 289.5,475.0 300.5,398.6 313.9,328.6 333.5,255.4 339.5,238.2 341.4,234.0 343.3,230.0 345.2,226.3 347.0,223.0 364.5,198.2 373.8,198.4" fill="none" stroke="#EDB120" stroke-width="2.5" stroke-linejoin="round" stroke-dasharray="2.5 2.1"/><circle cx="313.9" cy="328.6" r="4.55" fill="none" stroke="#EDB120" stroke-width="2.5"/><circle cx="333.5" cy="255.4" r="4.55" fill="none" stroke="#EDB120" stroke-width="2.5"/><circle cx="339.5" cy="238.2" r="4.55" fill="none" stroke="#EDB120" stroke-width="2.5"/><circle cx="341.4" cy="234.0" r="4.55" fill="none" stroke="#EDB120" stroke-width="2.5"/><circle cx="343.3" cy="230.0" r="4.55" fill="none" stroke="#EDB120" stroke-width="2.5"/><circle cx="345.2" cy="226.3" r="4.55" fill="none" stroke="#EDB120" stroke-width="2.5"/><circle cx="347.0" cy="223.0" r="4.55" fill="none" stroke="#EDB120" stroke-width="2.5"/><circle cx="364.5" cy="198.2" r="4.55" fill="none" stroke="#EDB120" stroke-width="2.5"/><circle cx="373.8" cy="198.4" r="4.55" fill="none" stroke="#EDB120" stroke-width="2.5"/><polyline clip-path="url(#ci)" points="129.0,977.6 146.2,947.5 162.9,913.1 183.8,875.0 199.3,828.7 214.7,779.3 233.1,728.3 248.8,668.5 264.5,598.9 280.3,530.6 295.0,462.3 310.0,398.2 325.6,338.5 339.5,283.3 357.4,234.0 387.2,193.6 408.0,181.7 432.5,176.5 444.3,174.3 560.0,162.6" fill="none" stroke="#7E2F8E" stroke-width="2.5" stroke-linejoin="round"/><rect x="322.5" y="335.4" width="6.3" height="6.3" fill="none" stroke="#7E2F8E" stroke-width="2.5"/><rect x="336.4" y="280.2" width="6.3" height="6.3" fill="none" stroke="#7E2F8E" stroke-width="2.5"/><rect x="354.2" y="230.8" width="6.3" height="6.3" fill="none" stroke="#7E2F8E" stroke-width="2.5"/><rect x="384.0" y="190.4" width="6.3" height="6.3" fill="none" stroke="#7E2F8E" stroke-width="2.5"/><rect x="404.9" y="178.6" width="6.3" height="6.3" fill="none" stroke="#7E2F8E" stroke-width="2.5"/><rect x="429.4" y="173.4" width="6.3" height="6.3" fill="none" stroke="#7E2F8E" stroke-width="2.5"/><rect x="441.2" y="171.2" width="6.3" height="6.3" fill="none" stroke="#7E2F8E" stroke-width="2.5"/><polyline clip-path="url(#ci)" points="233.7,983.8 261.3,907.2 273.6,859.0 297.6,718.4 308.8,640.9 320.3,564.3 331.0,460.6 336.7,424.5 341.9,374.2 351.8,303.0 377.2,221.8 398.8,201.5 410.6,196.2 423.3,191.3 435.6,187.5 523.0,166.1 560.0,163.6" fill="none" stroke="#77AC30" stroke-width="2.5" stroke-linejoin="round" stroke-dasharray="2.5 2.1"/><polygon points="351.8,297.2 356.5,303.0 351.8,308.8 347.1,303.0" fill="none" stroke="#77AC30" stroke-width="2.5" stroke-linejoin="miter"/><polygon points="377.2,216.0 381.9,221.8 377.2,227.6 372.5,221.8" fill="none" stroke="#77AC30" stroke-width="2.5" stroke-linejoin="miter"/><polygon points="398.8,195.7 403.5,201.5 398.8,207.3 394.1,201.5" fill="none" stroke="#77AC30" stroke-width="2.5" stroke-linejoin="miter"/><polygon points="410.6,190.4 415.3,196.2 410.6,202.0 405.9,196.2" fill="none" stroke="#77AC30" stroke-width="2.5" stroke-linejoin="miter"/><polygon points="423.3,185.5 428.0,191.3 423.3,197.1 418.6,191.3" fill="none" stroke="#77AC30" stroke-width="2.5" stroke-linejoin="miter"/><polygon points="435.6,181.7 440.3,187.5 435.6,193.3 430.9,187.5" fill="none" stroke="#77AC30" stroke-width="2.5" stroke-linejoin="miter"/><polygon points="523.0,160.3 527.7,166.1 523.0,171.9 518.3,166.1" fill="none" stroke="#77AC30" stroke-width="2.5" stroke-linejoin="miter"/><polyline clip-path="url(#ci)" points="260.4,928.4 274.9,866.3 288.8,786.9 301.8,692.9 315.5,568.4 328.4,453.8 338.5,344.0 353.0,254.0 360.8,209.4 386.4,175.7 410.2,169.0 435.6,164.1 448.3,163.4 560.0,162.9" fill="none" stroke="#4DBEEE" stroke-width="2.5" stroke-linejoin="round" stroke-dasharray="10.5 2.8 4.6 2.8"/><polygon points="338.5,338.3 343.8,347.3 333.2,347.3" fill="none" stroke="#4DBEEE" stroke-width="2.5" stroke-linejoin="miter"/><polygon points="353.0,248.3 358.3,257.3 347.7,257.3" fill="none" stroke="#4DBEEE" stroke-width="2.5" stroke-linejoin="miter"/><polygon points="360.8,203.7 366.1,212.7 355.5,212.7" fill="none" stroke="#4DBEEE" stroke-width="2.5" stroke-linejoin="miter"/><polygon points="386.4,170.0 391.7,179.0 381.1,179.0" fill="none" stroke="#4DBEEE" stroke-width="2.5" stroke-linejoin="miter"/><polygon points="410.2,163.3 415.5,172.3 404.9,172.3" fill="none" stroke="#4DBEEE" stroke-width="2.5" stroke-linejoin="miter"/><polygon points="435.6,158.4 440.9,167.4 430.3,167.4" fill="none" stroke="#4DBEEE" stroke-width="2.5" stroke-linejoin="miter"/><polygon points="448.3,157.7 453.6,166.7 443.0,166.7" fill="none" stroke="#4DBEEE" stroke-width="2.5" stroke-linejoin="miter"/></g>
<g><text x="277.0" y="166.1" font-size="13.30" text-anchor="end">1</text><text x="277.0" y="213.2" font-size="13.30" text-anchor="end">0.95</text><text x="277.0" y="260.3" font-size="13.30" text-anchor="end">0.9</text><text x="277.0" y="307.4" font-size="13.30" text-anchor="end">0.85</text><text x="277.0" y="354.5" font-size="13.30" text-anchor="end">0.8</text><text x="269.0" y="370.0" font-size="13.30" text-anchor="start">10<tspan font-size="9.6" dy="-6">-3</tspan></text><text x="395.0" y="370.0" font-size="13.30" text-anchor="start">10<tspan font-size="9.6" dy="-6">-2</tspan></text><text x="521.0" y="370.0" font-size="13.30" text-anchor="start">10<tspan font-size="9.6" dy="-6">-1</tspan></text><text x="407" y="390" font-size="14.6" text-anchor="middle">FAR</text><text transform="translate(244.3,254.6) rotate(-90)" font-size="14.6" text-anchor="middle">DR</text></g>
<rect x="366.5" y="23.2" width="163.8" height="113.5" fill="#fff" stroke="#262626" stroke-width="1"/>
<g><line x1="371" y1="35.10" x2="415.7" y2="35.10" stroke="#0072BD" stroke-width="2.5"/><polygon points="393.5,27.6 395.3,32.7 400.6,32.8 396.4,36.0 397.9,41.2 393.5,38.1 389.1,41.2 390.6,36.0 386.4,32.8 391.7,32.7" fill="#0072BD" stroke="#0072BD" stroke-width="1" stroke-linejoin="miter"/><text x="419.3" y="39.85" font-size="13.45" fill="#111">Proposed method</text><line x1="371.0" y1="53.55" x2="382.0" y2="53.55" stroke="#D95319" stroke-width="2.5"/><line x1="384.6" y1="53.55" x2="402.0" y2="53.55" stroke="#D95319" stroke-width="2.5"/><line x1="404.8" y1="53.55" x2="409.7" y2="53.55" stroke="#D95319" stroke-width="2.5"/><line x1="411.9" y1="53.55" x2="415.7" y2="53.55" stroke="#D95319" stroke-width="2.5"/><polygon points="393.5,49.2 395.2,50.6 397.2,51.4 396.9,53.5 397.2,55.7 395.2,56.5 393.5,57.8 391.8,56.5 389.8,55.7 390.1,53.5 389.8,51.4 391.8,50.6" fill="#D95319" stroke="#D95319" stroke-width="1" stroke-linejoin="round"/><text x="419.3" y="58.40" font-size="13.45" fill="#111" letter-spacing="0.1">(SO)CFAR-CNN</text><line x1="371" y1="72.00" x2="415.7" y2="72.00" stroke="#EDB120" stroke-width="2.5" stroke-dasharray="2.4 2.0"/><circle cx="393.5" cy="72.0" r="4.55" fill="none" stroke="#EDB120" stroke-width="2.5"/><text x="419.3" y="76.95" font-size="13.45" fill="#111" letter-spacing="0.1">(CA)CFAR-CNN</text><line x1="371" y1="90.45" x2="415.7" y2="90.45" stroke="#7E2F8E" stroke-width="2.5"/><rect x="390.4" y="87.3" width="6.3" height="6.3" fill="none" stroke="#7E2F8E" stroke-width="2.5"/><text x="419.3" y="95.50" font-size="13.45" fill="#111" letter-spacing="0.1">(VI)CFAR</text><line x1="371" y1="108.90" x2="415.7" y2="108.90" stroke="#77AC30" stroke-width="2.5" stroke-dasharray="2.4 2.0"/><polygon points="393.5,103.1 398.2,108.9 393.5,114.7 388.8,108.9" fill="none" stroke="#77AC30" stroke-width="2.5" stroke-linejoin="miter"/><text x="419.3" y="114.05" font-size="13.45" fill="#111" letter-spacing="0.1">(CA)CFAR</text><line x1="371.0" y1="127.35" x2="382.0" y2="127.35" stroke="#4DBEEE" stroke-width="2.5"/><line x1="384.6" y1="127.35" x2="402.0" y2="127.35" stroke="#4DBEEE" stroke-width="2.5"/><line x1="404.8" y1="127.35" x2="409.7" y2="127.35" stroke="#4DBEEE" stroke-width="2.5"/><line x1="411.9" y1="127.35" x2="415.7" y2="127.35" stroke="#4DBEEE" stroke-width="2.5"/><polygon points="393.5,121.6 398.8,130.7 388.2,130.7" fill="none" stroke="#4DBEEE" stroke-width="2.5" stroke-linejoin="miter"/><text x="419.3" y="132.60" font-size="13.45" fill="#111" letter-spacing="0.1">(SO)CFAR</text></g>
</svg>
</body></html>
